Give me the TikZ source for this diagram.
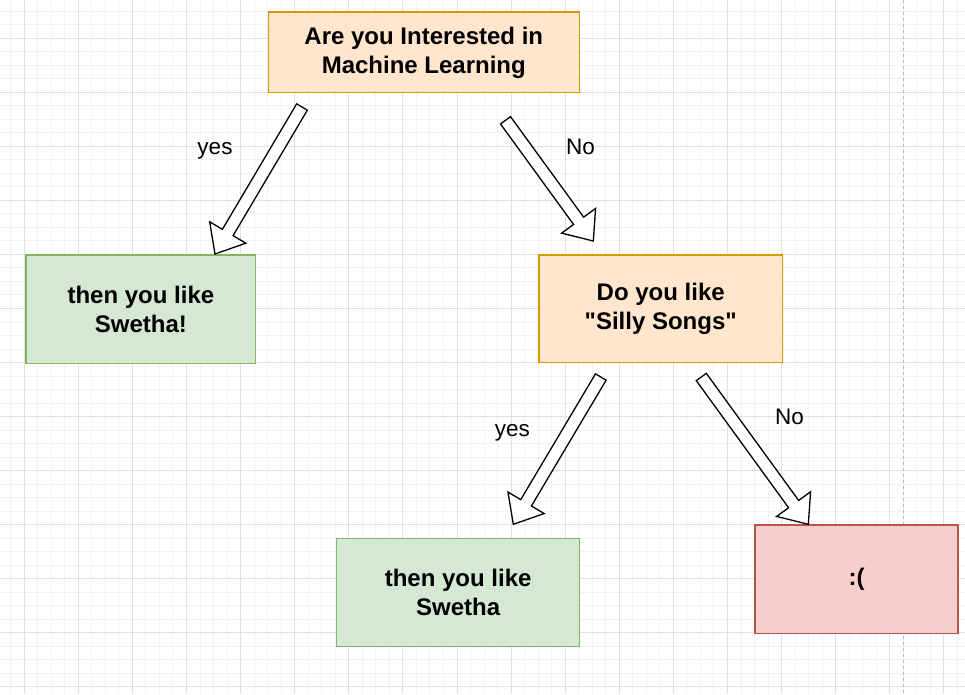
\documentclass[tikz,border=0pt]{standalone}
\usepackage{fontspec}
\setmainfont{Liberation Sans}
\usetikzlibrary{calc}

\definecolor{orangefill}{HTML}{FFE6CC}
\definecolor{orangeline}{HTML}{D79B00}
\definecolor{greenfill}{HTML}{D5E8D4}
\definecolor{greenline}{HTML}{82B366}
\definecolor{redfill}{HTML}{F8CECC}
\definecolor{redline}{HTML}{B85450}
\definecolor{gridminor}{HTML}{F2F2F2}
\definecolor{gridmajor}{HTML}{E0E0E0}
\definecolor{pageline}{HTML}{B8B8B8}

% hollow block arrow: #1 tail, #2 tip
\newcommand{\blockarrow}[2]{%
  \coordinate (#2neck) at ($(#2)!25pt!(#1)$);
  \draw[flexarrow] ($(#1)!6.2pt!90:(#2)$) -- ($(#2neck)!6.2pt!90:(#2)$)
    -- ($(#2neck)!21pt!90:(#2)$) -- (#2) -- ($(#2neck)!21pt!-90:(#2)$)
    -- ($(#2neck)!6.2pt!-90:(#2)$) -- ($(#1)!6.2pt!-90:(#2)$) -- cycle;
}

\begin{document}
\begin{tikzpicture}[x=1pt, y=-1pt]

      \tikzset{boxnode/.style={draw, rectangle, line width=1.2pt, align=center,
                 font=\fontsize{24}{29}\selectfont\bfseries},
               question/.style={boxnode, fill=orangefill, draw=orangeline},
               answer/.style={boxnode, fill=greenfill, draw=greenline},
               sadbox/.style={boxnode, fill=redfill, draw=redline},
               choice/.style={font=\fontsize{22.5}{27}\selectfont},
               flexarrow/.style={draw=black, fill=white, line width=1.3pt, line join=miter}}
      \useasboundingbox (0,0) rectangle (965,694);
%% Grid
      \fill[white] (0,0) rectangle (965,694);
      \foreach \i in {0,...,72}
          \draw[gridminor, line width=1pt] ({-2.85+13.525*\i},0) -- ++(0,694);
      \foreach \j in {0,...,52}
          \draw[gridminor, line width=1pt] (0,{-2.23+13.51*\j}) -- ++(965,0);
      \foreach \i in {0,...,17}
          \draw[gridmajor, line width=1pt] ({24.2+54.1*\i},0) -- ++(0,694);
      \foreach \j in {0,...,12}
          \draw[gridmajor, line width=1pt] (0,{38.3+54.03*\j}) -- ++(965,0);
      \draw[pageline, dashed, line width=1pt] (903.5,0) -- (903.5,694);
%% Boxes
      \node[question, minimum width=311pt, minimum height=80.7pt] (interest) at (423.8,52.4)
          {Are you Interested in\\Machine Learning};
      \node[answer, minimum width=229.7pt, minimum height=108.3pt] (swethaA) at (140.9,309.2)
          {then you like\\Swetha!};
      \node[question, minimum width=243.3pt, minimum height=107.7pt] (songs) at (660.7,308.9)
          {Do you like\\\textquotedbl Silly Songs\textquotedbl};
      \node[answer, minimum width=243.2pt, minimum height=108.4pt] (swethaB) at (458.1,592.5)
          {then you like\\Swetha};
      \node[sadbox, minimum width=202.9pt, minimum height=108.3pt] (sad) at (856.5,579.2)
          {:(};
%Arrows
      \coordinate (yesAtail) at (302,107);
      \coordinate (yesAtip) at (215,254);
      \coordinate (noAtail) at (505.5,120.3);
      \coordinate (noAtip) at (593.3,241);
      \coordinate (yesBtail) at (600.8,377);
      \coordinate (yesBtip) at (513.3,524.3);
      \coordinate (noBtail) at (701.3,377);
      \coordinate (noBtip) at (808.3,524.3);
      \blockarrow{yesAtail}{yesAtip}
      \blockarrow{noAtail}{noAtip}
      \blockarrow{yesBtail}{yesBtip}
      \blockarrow{noBtail}{noBtip}
%Labels
      \node[choice] (yesA) at (215,150.5) {yes};
      \node[choice] (noA) at (580.5,146.7) {No};
      \node[choice] (yesB) at (512.3,432.5) {yes};
      \node[choice] (noB) at (789.5,416.7) {No};

	\end{tikzpicture}
\end{document}
